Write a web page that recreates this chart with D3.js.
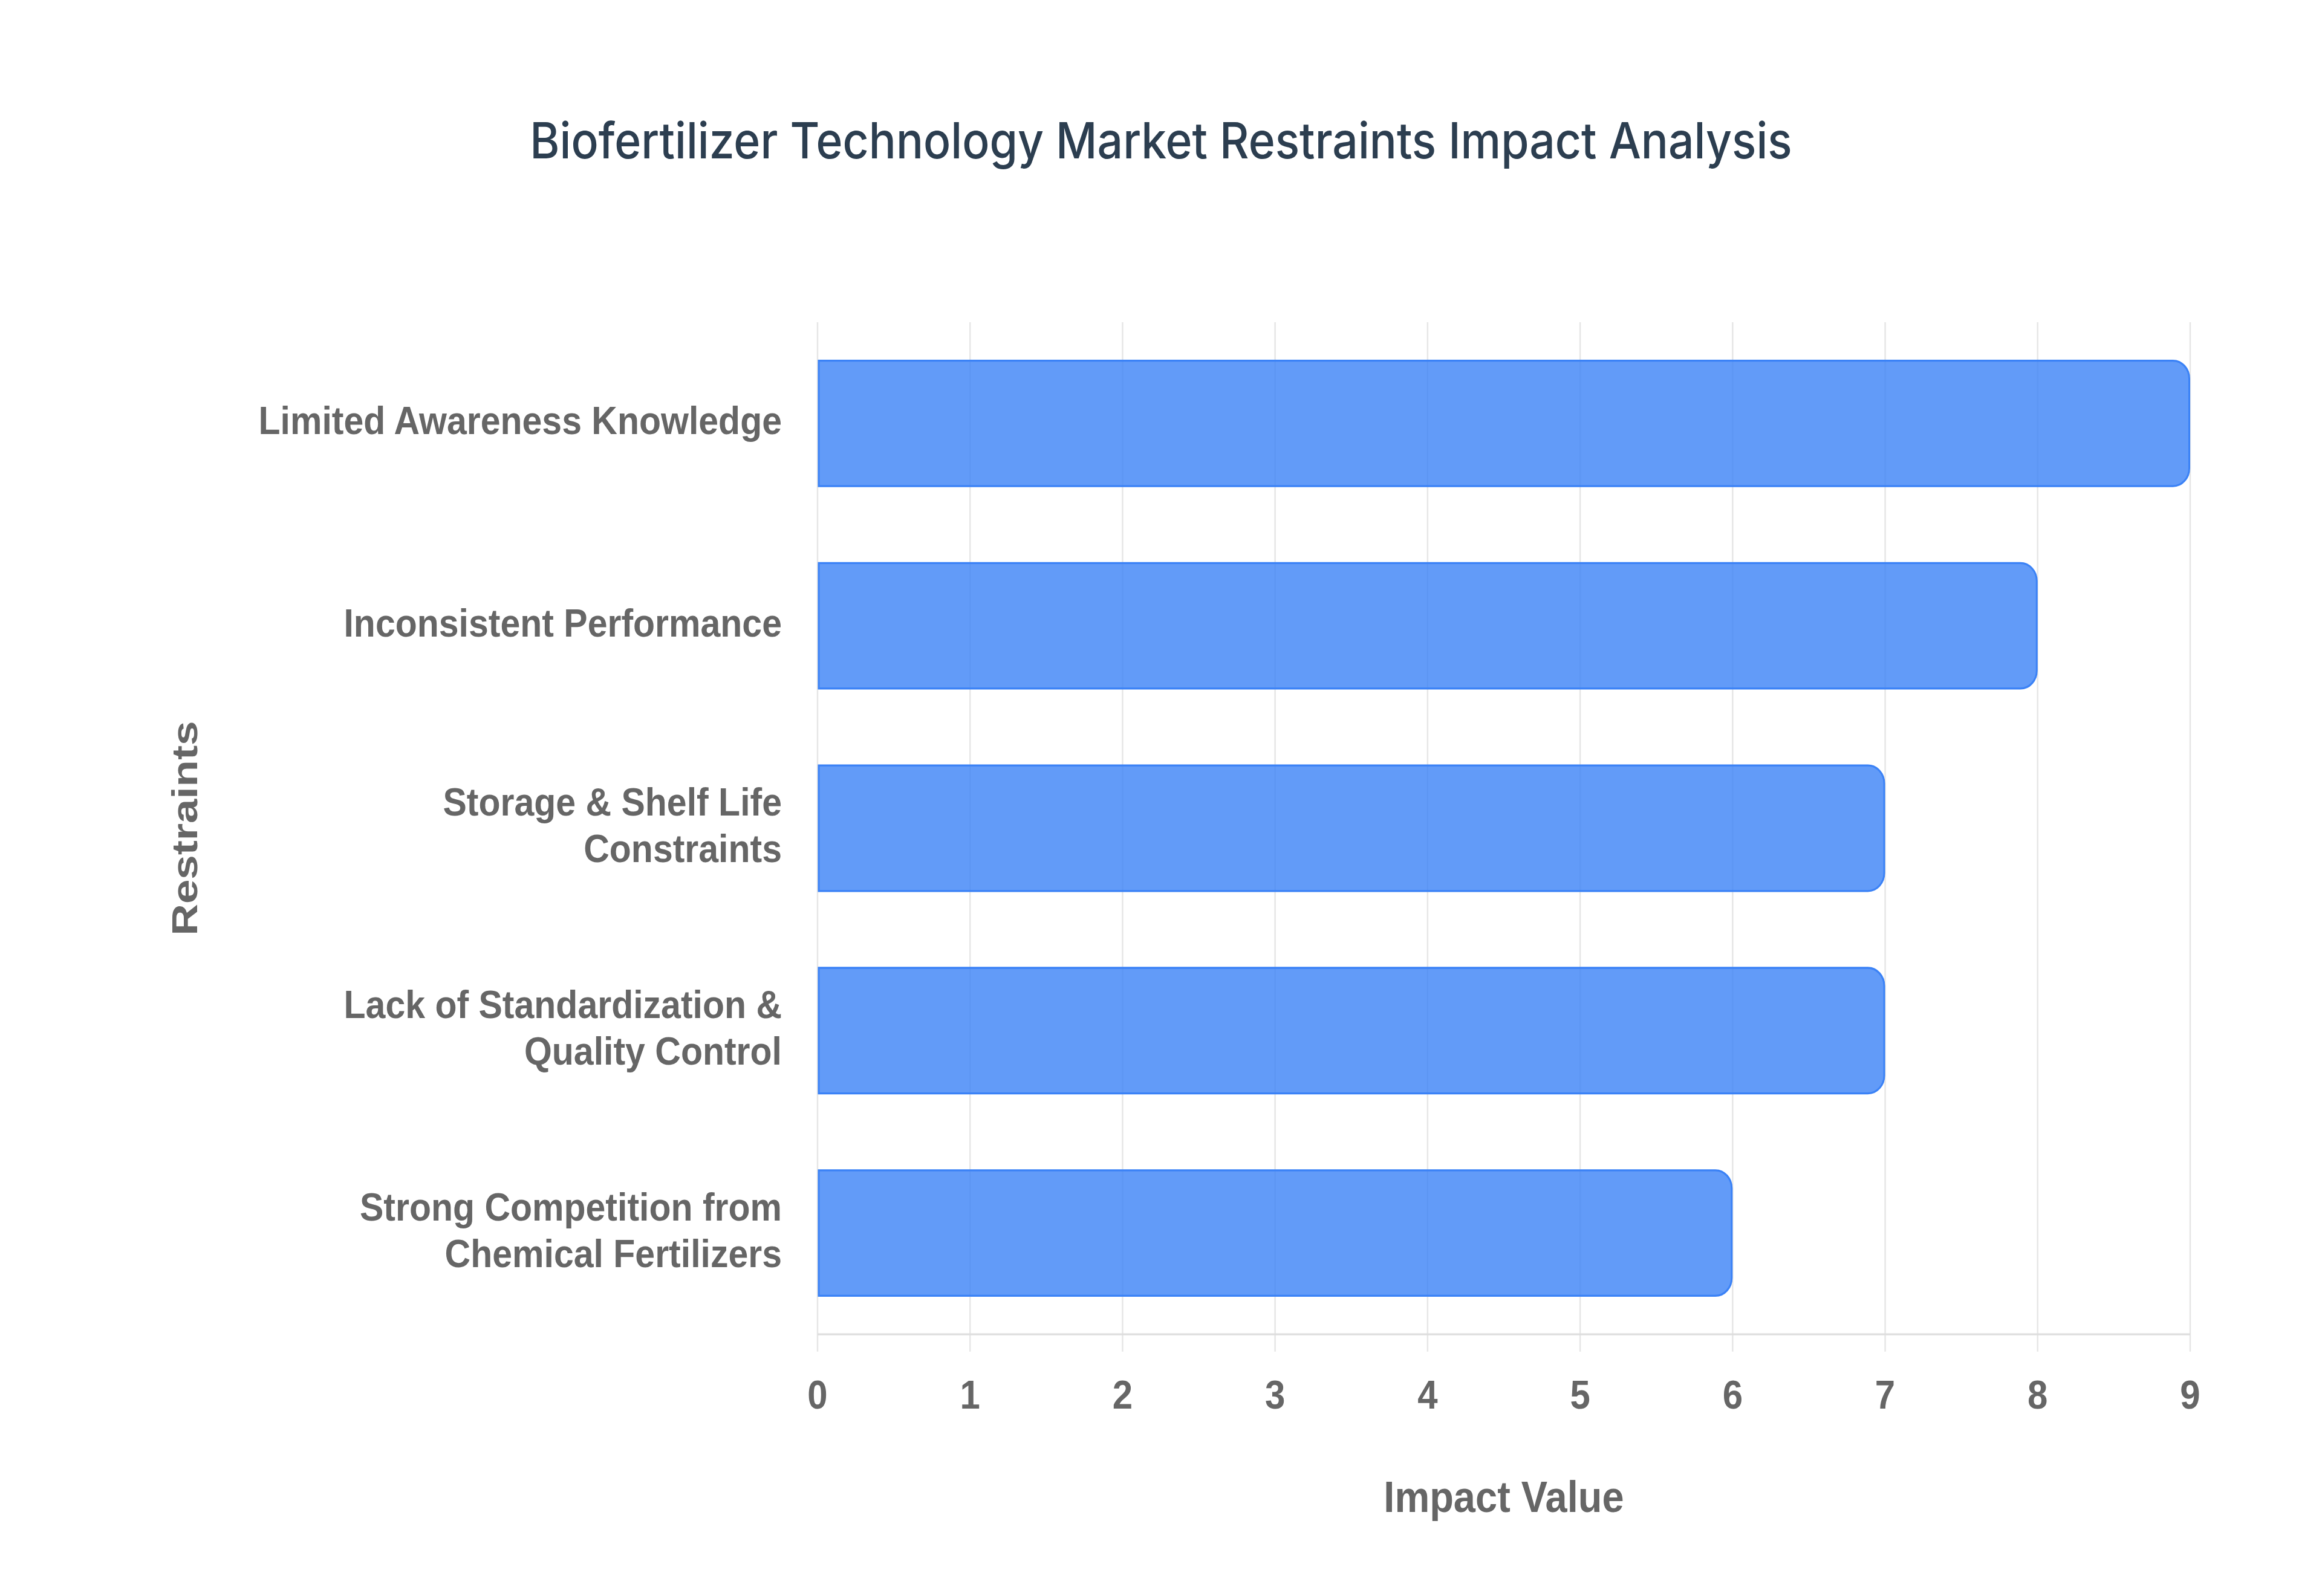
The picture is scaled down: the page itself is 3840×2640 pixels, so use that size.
<!DOCTYPE html>
<html>
  <head>
    <meta charset="utf-8">
    <title>Biofertilizer Restraints</title>
    <script src="https://cdn.jsdelivr.net/npm/d3@7"></script>
    <style>
      body { margin: 0; background: #fff; }
    </style>
  </head>
  <body>
    <script>
    var categories = [
      ["Limited Awareness Knowledge"],
      ["Inconsistent Performance"],
      ["Storage & Shelf Life", "Constraints"],
      ["Lack of Standardization &", "Quality Control"],
      ["Strong Competition from", "Chemical Fertilizers"]
    ];
    var values = [9, 8, 7, 7, 6];
    var xTicks = [0, 1, 2, 3, 4, 5, 6, 7, 8, 9];

    var W = 3840, H = 2640;
    var sy = 1.1;           // picture is a bit taller than its drawing space

    var svg = d3.select("body").append("svg")
      .attr("width", W).attr("height", H);
    var root = svg.append("g").attr("transform", "scale(1," + sy + ")");

    var plotTop = 484.5, plotBottom = 2006.4, plotLeft = 1352, plotRight = 3622;
    var x = d3.scaleLinear().domain([0, 9]).range([plotLeft, plotRight]);
    var y = d3.scaleBand().domain(d3.range(categories.length))
      .range([plotTop, plotBottom]).paddingInner(0.38).paddingOuter(0.19);

    var labelFont = "'Liberation Sans', Arial, Helvetica, sans-serif";

    // title
    root.append("text")
      .attr("x", W / 2).attr("y", 238)
      .attr("text-anchor", "middle")
      .attr("font-family", "Inter, 'Open Sans', sans-serif")
      .attr("font-weight", 500)
      .attr("font-size", 75)
      .attr("fill", "#2c3e50")
      .text("Biofertilizer Technology Market Restraints Impact Analysis");

    // vertical grid
    root.append("g").selectAll("line")
      .data(xTicks).enter().append("line")
      .attr("x1", function(d){ return x(d); })
      .attr("x2", function(d){ return x(d); })
      .attr("y1", plotTop).attr("y2", plotBottom + 26)
      .attr("stroke", "#e6e6e6").attr("stroke-width", 2.5);

    // bottom border
    root.append("line")
      .attr("x1", plotLeft).attr("x2", plotRight)
      .attr("y1", plotBottom).attr("y2", plotBottom)
      .attr("stroke", "#dedede").attr("stroke-width", 3);

    // bars, right side rounded
    var r = 27;
    root.append("g").selectAll("path")
      .data(values).enter().append("path")
      .attr("d", function(d, i){
        var x0 = x(0) + 2, x1 = x(d) - 1.5, y0 = y(i), h = y.bandwidth();
        return "M" + x0 + "," + y0 +
          "H" + (x1 - r) +
          "A" + r + "," + r + " 0 0 1 " + x1 + "," + (y0 + r) +
          "V" + (y0 + h - r) +
          "A" + r + "," + r + " 0 0 1 " + (x1 - r) + "," + (y0 + h) +
          "H" + x0 + "Z";
      })
      .attr("fill", "rgba(59,130,246,0.8)")
      .attr("stroke", "#3b82f6")
      .attr("stroke-width", 3);

    // x tick labels
    root.append("g").selectAll("text")
      .data(xTicks).enter().append("text")
      .attr("x", function(d){ return x(d); })
      .attr("y", 2118)
      .attr("text-anchor", "middle")
      .attr("font-family", labelFont)
      .attr("font-weight", "bold")
      .attr("font-size", 60)
      .attr("fill", "#666")
      .text(function(d){ return d; });

    // y category labels
    var yl = root.append("g").selectAll("text")
      .data(categories).enter().append("text")
      .attr("text-anchor", "end")
      .attr("font-family", labelFont)
      .attr("font-weight", "bold")
      .attr("font-size", 59)
      .attr("fill", "#666");
    yl.each(function(lines, i){
      var c = y(i) + y.bandwidth() / 2;
      var t = d3.select(this);
      lines.forEach(function(s, j){
        t.append("tspan")
          .attr("x", 1293)
          .attr("y", c + 16 + (j - (lines.length - 1) / 2) * 70)
          .text(s);
      });
    });

    // axis titles
    root.append("text")
      .attr("x", (plotLeft + plotRight) / 2).attr("y", 2274)
      .attr("text-anchor", "middle")
      .attr("font-family", labelFont)
      .attr("font-weight", "bold")
      .attr("font-size", 65)
      .attr("fill", "#666")
      .text("Impact Value");

    root.append("text")
      .attr("transform", "translate(326," + ((plotTop + plotBottom) / 2) + ") rotate(-90) scale(1," + (1 / sy) + ")")
      .attr("text-anchor", "middle")
      .attr("font-family", labelFont)
      .attr("font-weight", "bold")
      .attr("font-size", 66)
      .attr("fill", "#666")
      .text("Restraints");
    </script>
  </body>
</html>
